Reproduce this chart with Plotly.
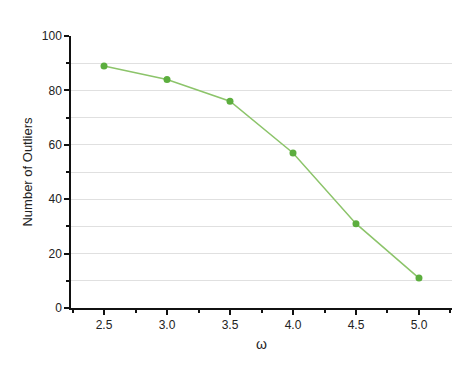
import plotly.graph_objects as go

omega = [2.5, 3.0, 3.5, 4.0, 4.5, 5.0]
outliers = [89, 84, 76, 57, 31, 11]
x_ticks = [2.5, 3.0, 3.5, 4.0, 4.5, 5.0]
x_tick_labels = ["2.5", "3.0", "3.5", "4.0", "4.5", "5.0"]
y_ticks = [0, 20, 40, 60, 80, 100]

fig = go.Figure()
fig.add_trace(go.Scatter(
    x=omega, y=outliers, mode="lines+markers",
    line=dict(color="#8cc46a", width=1.5),
    marker=dict(color="#5cae3e", size=7),
    showlegend=False,
))

fig.update_layout(
    width=474, height=386,
    margin=dict(l=63, r=30, t=28, b=86, autoexpand=False),
    paper_bgcolor="white", plot_bgcolor="white",
    font=dict(family="Liberation Sans, Arial, sans-serif", size=12, color="#222"),
)
fig.update_xaxes(
    range=[2.238, 5.262],
    tickvals=x_ticks, ticktext=x_tick_labels,
    showline=True, linecolor="#111", linewidth=1.5,
    ticks="outside", ticklen=5, tickwidth=1.5, tickcolor="#111",
    minor=dict(dtick=0.25, tick0=2.25, ticks="outside", ticklen=3, tickcolor="#111", tickwidth=1.5, showgrid=False),
    showgrid=False, zeroline=False,
    title=dict(text="ω", font=dict(size=14), standoff=8),
)
fig.update_yaxes(
    range=[0, 100],
    tickvals=y_ticks,
    showline=True, linecolor="#111", linewidth=1.5,
    ticks="outside", ticklen=5, tickwidth=1.5, tickcolor="#111",
    minor=dict(dtick=10, tick0=0, ticks="outside", ticklen=3, tickcolor="#111", tickwidth=1.5, showgrid=True, gridcolor="#e0e0e0", gridwidth=1.2),
    showgrid=True, gridcolor="#e0e0e0", gridwidth=1.2,
    zeroline=False,
    title=dict(text="Number of Outliers", font=dict(size=13), standoff=6),
)

fig.write_html("out.html")
